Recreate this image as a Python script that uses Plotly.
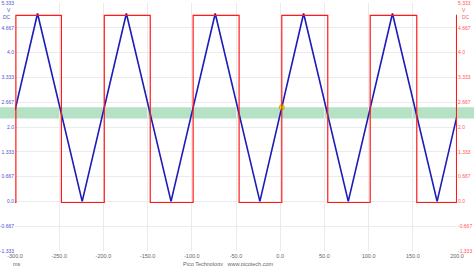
import plotly.graph_objects as go

# ---- data ----
x_ticks = [-300, -250, -200, -150, -100, -50, 0, 50, 100, 150, 200]
x_tick_labels = ["-300.0", "-250.0", "-200.0", "-150.0", "-100.0", "-50.0",
                 "0.0", "50.0", "100.0", "150.0", "200.0"]
y_ticks = [-1.333, -0.667, 0.0, 0.667, 1.333, 2.0, 2.667, 3.333, 4.0, 4.667, 5.333]
y_tick_labels = ["-1.333", "-0.667", "0.0", "0.667", "1.333", "2.0",
                 "2.667", "3.333", "4.0", "4.667", "5.333"]

# channel A (blue, triangle): vertex times (ms) and levels (V)
blue_t = [-300, -274.5, -224, -174, -123.5, -73.5, -23, 26.5, 77, 127, 177.5, 200]
blue_v = [2.45, 5.05, 0.0, 5.05, 0.0, 5.05, 0.0, 5.05, 0.0, 5.05, 0.0, 2.3]

# channel B (red, square): edge times (ms) and levels (V)
red_rise = [-299, -199, -98.5, 1.8, 101.8, 199.5]
red_fall = [-247.5, -147, -46.5, 53.8, 154.5]
red_high = 5.0
red_low = -0.03

# trigger marker and trigger band
trig_t = [1.8]
trig_v = [2.53]
band_lo, band_hi = 2.23, 2.53

# ---- build step path for the square wave from the edge lists ----
rx, ry = [-300], [red_low]
edges = sorted([(t, "r") for t in red_rise] + [(t, "f") for t in red_fall])
for t, kind in edges:
    if kind == "r":
        rx += [t, t]; ry += [red_low, red_high]
    else:
        rx += [t, t]; ry += [red_high, red_low]
rx.append(200); ry.append(ry[-1])

fig = go.Figure()
fig.add_trace(go.Scatter(x=rx, y=ry, mode="lines", yaxis="y2",
                         line=dict(color="#ff1a1a", width=1.2), hoverinfo="skip"))
fig.add_trace(go.Scatter(x=blue_t, y=blue_v, mode="lines",
                         line=dict(color="#1c1cb8", width=1.6), hoverinfo="skip"))
fig.add_trace(go.Scatter(x=trig_t, y=trig_v, mode="markers",
                         marker=dict(color="#e8e800", size=5,
                                     line=dict(color="#a0a000", width=0.8)),
                         hoverinfo="skip"))

W, H = 474, 266
ml, mr, mt, mb = 15, 17, 3, 15
pw = W - ml - mr
ph = H - mt - mb
fig.add_shape(type="rect", xref="paper", yref="y", layer="below",
              x0=-ml / pw, x1=1 + mr / pw, y0=band_lo, y1=band_hi,
              fillcolor="rgba(120,200,150,0.55)", line=dict(width=0))

font = "Liberation Sans, Arial, sans-serif"
fs = 5
fig.update_layout(
    width=W, height=H, margin=dict(l=ml, r=mr, t=mt, b=mb),
    paper_bgcolor="white", plot_bgcolor="white", showlegend=False,
    font=dict(family=font, size=fs),
    xaxis=dict(range=[-300, 200], tickvals=x_ticks, ticktext=x_tick_labels,
               showgrid=True, gridcolor="#ebebeb", gridwidth=1, zeroline=False,
               showline=False, ticks="", tickfont=dict(size=5.5, color="#666666"),
               ticklabelstandoff=0, automargin=False, ticklabeloverflow="allow"),
    yaxis=dict(range=[-1.333, 5.333], tickvals=y_ticks, ticktext=y_tick_labels,
               showgrid=True, gridcolor="#ebebeb", gridwidth=1, zeroline=False,
               showline=False, ticks="", tickfont=dict(size=fs, color="#5050d8"),
               ticklabelstandoff=0, automargin=False, ticklabeloverflow="allow"),
    yaxis2=dict(range=[-1.333, 5.333], tickvals=y_ticks, ticktext=y_tick_labels,
                overlaying="y", side="right", showgrid=False, zeroline=False,
                showline=False, ticks="", tickfont=dict(size=fs, color="#ff5555"),
                ticklabelstandoff=0, automargin=False, ticklabeloverflow="allow"),
)

ann = [
    dict(text="V", x=-2 / pw, y=1 - 7 / ph, xanchor="right", font_color="#5050d8"),
    dict(text="DC", x=-2 / pw, y=1 - 14 / ph, xanchor="right", font_color="#5050d8"),
    dict(text="V", x=1 + 3 / pw, y=1 - 7 / ph, xanchor="left", font_color="#ff5555"),
    dict(text="DC", x=1 + 3 / pw, y=1 - 14 / ph, xanchor="left", font_color="#ff5555"),
]
for a in ann:
    fig.add_annotation(xref="paper", yref="paper", showarrow=False, yanchor="middle",
                       font=dict(size=fs, color=a.pop("font_color"), family=font), **a)
fig.add_annotation(xref="paper", yref="paper", x=2 / pw, y=-12.5 / ph,
                   text="ms", showarrow=False, xanchor="center", yanchor="middle",
                   font=dict(size=5.5, color="#666666", family=font))
fig.add_annotation(xref="paper", yref="paper", x=0.5 - 8 / pw, y=-12.5 / ph,
                   text="Pico Technology&nbsp;&nbsp;&nbsp;www.picotech.com", showarrow=False,
                   xanchor="center", yanchor="middle",
                   font=dict(size=5.5, color="#666666", family=font))

fig.write_html("out.html")
